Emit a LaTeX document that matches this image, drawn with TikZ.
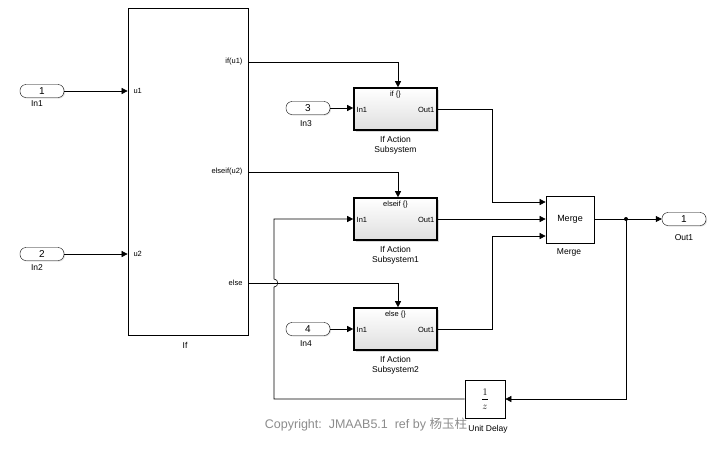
\documentclass[tikz,border=0pt]{standalone}
\usepackage{fontspec}
\setmainfont{Liberation Sans}
\newfontfamily\cjk{Noto Sans CJK SC}
\usetikzlibrary{arrows.meta,calc,shadows}
\begin{document}
\begin{tikzpicture}[x=1pt,y=-1pt,font=\fontsize{7.5}{8}\selectfont,
  wire/.style={line width=0.6pt},
  sig/.style={wire,-{Triangle[length=6pt,width=6pt]}},
  port/.style={draw,rounded corners=6pt,minimum width=44pt,minimum height=13pt,inner sep=0pt,fill=white,drop shadow={shadow xshift=1pt,shadow yshift=-1pt,fill=gray!50}},
  blk/.style={draw,line width=0.7pt,fill=white,inner sep=0pt},
  sub/.style={draw,line width=1.6pt,minimum width=83pt,minimum height=42pt,inner sep=0pt,top color=white,bottom color=gray!25,drop shadow={shadow xshift=1.5pt,shadow yshift=-1.5pt,fill=gray!60}},
  lbl/.style={align=center,font=\fontsize{8.5}{10}\selectfont}]
\useasboundingbox (0,0) rectangle (720,448);

% inports / outport
\node[port] (in1) at (42,91) {\fontsize{10}{10}\selectfont 1};
\node[lbl] at (37,104) {In1};
\node[port] (in2) at (42,254) {\fontsize{10}{10}\selectfont 2};
\node[lbl] at (37,268) {In2};
\node[port] (in3) at (308,108) {\fontsize{10}{10}\selectfont 3};
\node[lbl] at (306,124) {In3};
\node[port] (in4) at (308,329) {\fontsize{10}{10}\selectfont 4};
\node[lbl] at (306,344) {In4};
\node[port] (out1) at (684,219) {\fontsize{10}{10}\selectfont 1};
\node[lbl] at (684,238) {Out1};

% If block
\node[blk,minimum width=120pt,minimum height=327pt,drop shadow={shadow xshift=1pt,shadow yshift=-1pt,fill=gray!40}] (if) at (188,171.5) {};
\node[lbl] at (185,345) {If};
\node[anchor=west] at (130,91) {u1};
\node[anchor=west] at (130,254) {u2};
\node[anchor=east] at (246,62) {if(u1)};
\node[anchor=east] at (246,172) {elseif(u2)};
\node[anchor=east] at (246,283) {else};

% action subsystems
\node[sub] (s0) at (395.5,109) {};
\node[sub] (s1) at (395.5,219) {};
\node[sub] (s2) at (395.5,329) {};
\foreach \s/\t/\n in {s0/if \{\}/If Action\\Subsystem,s1/elseif \{\}/If Action\\Subsystem1,s2/else \{\}/If Action\\Subsystem2}{
  \node[anchor=north] at (\s.north) {\t};
  \node[anchor=west] at ($(\s.west)+(0,1)$) {In1};
  \node[anchor=east] at ($(\s.east)+(0,1)$) {Out1};
  \node[lbl,anchor=north] at ($(\s.south)+(0,2)$) {\n};
}

% merge and unit delay
\node[blk,minimum width=48pt,minimum height=47pt,drop shadow={shadow xshift=1pt,shadow yshift=-1pt,fill=gray!40}] (mg) at (570,219.5) {\fontsize{9}{10}\selectfont Merge};
\node[lbl] at (569,252) {Merge};
\node[blk,minimum width=40pt,minimum height=38pt,drop shadow={shadow xshift=1pt,shadow yshift=-1pt,fill=gray!40}] (ud) at (485,399) {\fontsize{10}{11}\selectfont$\displaystyle\frac{1}{z}$};
\node[lbl] at (488,429) {Unit Delay};

% copyright
\node[gray!90,font=\fontsize{12.5}{14}\selectfont] at (366,425) {Copyright:\ \ JMAAB5.1\ \ ref by {\cjk 杨玉柱}};

% signals
\draw[sig] (in1.east) -- (if.west|-in1);
\draw[sig] (in2.east) -- (if.west|-in2);
\draw[sig] (in3.east) -- (s0.west|-in3);
\draw[sig] (in4.east) -- (s2.west|-in4);
\draw[sig] (if.east|-0,62) -- (398,62) -- (398,0|-s0.north);
\draw[sig] (if.east|-0,172) -- (398,172) -- (398,0|-s1.north);
\draw[sig] (if.east|-0,283) -- (398,283) -- (398,0|-s2.north);
\draw[sig] (s0.east) -- (492,109) -- (492,202) -- (mg.west|-0,202);
\draw[sig] (s1.east) -- (mg.west|-0,219);
\draw[sig] (s2.east) -- (492,329) -- (492,236) -- (mg.west|-0,236);
\coordinate (j) at (626,219);
\draw[sig] (mg.east|-j) -- (out1.west|-j);
\fill (j) circle (2pt);
\draw[sig] (j) -- (626,399) -- (ud.east);
\draw[sig] (ud.west) -- (274,399) -- (274,287) to[out=0,in=0,looseness=1.6] (274,279) -- (274,219) -- (s1.west);
\end{tikzpicture}
\end{document}
